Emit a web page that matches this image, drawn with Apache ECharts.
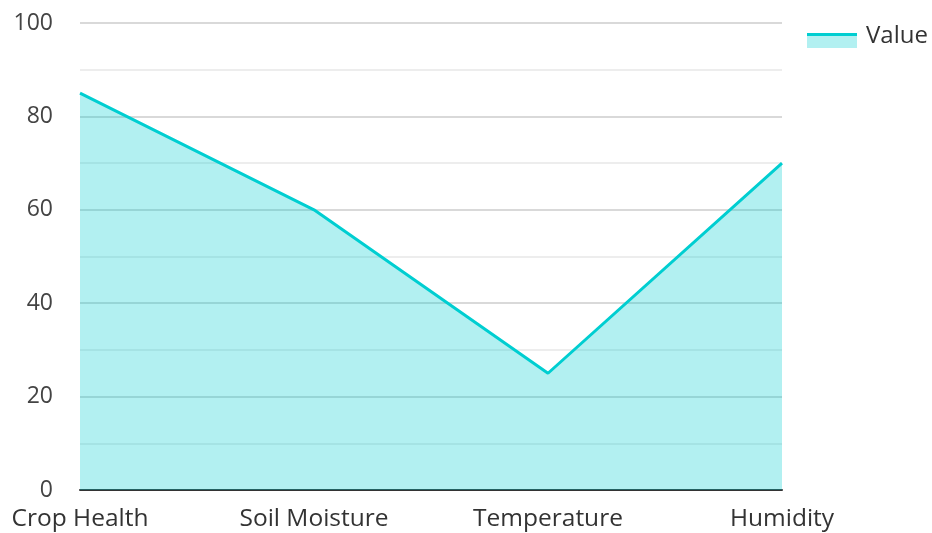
<!DOCTYPE html>
<html><head><meta charset="utf-8">
<script src="https://cdn.jsdelivr.net/npm/echarts@6/dist/echarts.min.js"></script>
<style>html,body{margin:0;padding:0;background:#fff}#c{width:932px;height:533px}</style>
</head><body><div id="c"></div>
<script>
const categories = ["Crop Health", "Soil Moisture", "Temperature", "Humidity"];
const values = [85, 60, 25, 70];
const seriesName = "Value";
const yMin = 0, yMax = 100, yInterval = 20;

const chart = echarts.init(document.getElementById('c'), null, {renderer: 'canvas'});
const font = "'Open Sans', 'Noto Sans', sans-serif";
const lineColor = '#00CED1';
chart.setOption({
  animation: false,
  textStyle: {fontFamily: font},
  legend: {
    data: [{name: seriesName, icon: 'rect', itemStyle: {color: 'rgba(0,0,0,0)'}}],
    left: 807, top: 24, padding: 0,
    itemWidth: 54, itemHeight: 15,
    textStyle: {fontSize: 24, color: '#333', fontFamily: font}
  },
  graphic: [
    {type: 'rect', left: 807, top: 36, shape: {width: 50, height: 12},
     style: {fill: 'rgba(0,206,209,0.3)'}, silent: true, z: 100},
    {type: 'rect', left: 807, top: 33, shape: {width: 50, height: 3},
     style: {fill: lineColor}, silent: true, z: 101}
  ],
  grid: {left: 80, right: 150, top: 23, bottom: 43, containLabel: false},
  xAxis: {
    type: 'category', data: categories, boundaryGap: false,
    axisLine: {lineStyle: {color: '#333', width: 2}},
    axisTick: {show: false},
    axisLabel: {fontSize: 24.5, color: '#333', margin: 17, fontFamily: font}
  },
  yAxis: {
    type: 'value', min: yMin, max: yMax, interval: yInterval,
    axisLine: {show: false}, axisTick: {show: false},
    axisLabel: {fontSize: 23, color: '#444', margin: 27, fontFamily: font},
    splitLine: {lineStyle: {color: '#ccc', width: 1.5}},
    minorTick: {show: false, splitNumber: 2},
    minorSplitLine: {show: true, lineStyle: {color: '#e8e8e8', width: 1.5}}
  },
  series: [{
    name: seriesName, type: 'line', data: values,
    symbol: 'none',
    lineStyle: {color: lineColor, width: 3},
    itemStyle: {color: lineColor},
    areaStyle: {color: lineColor, opacity: 0.3}
  }]
});
</script></body></html>
